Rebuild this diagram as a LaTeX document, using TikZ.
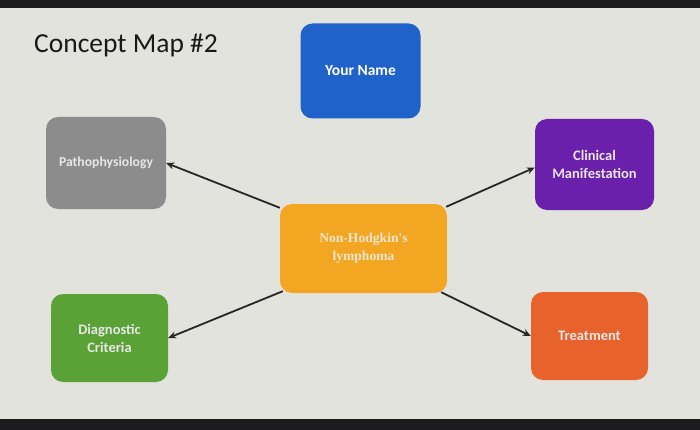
\documentclass[tikz,border=0pt]{standalone}
\usepackage{fontspec}
\setmainfont{Carlito}
\newfontfamily\serifbox{Liberation Serif}
\usetikzlibrary{arrows.meta}
\definecolor{bgc}{HTML}{E3E3DE}
\definecolor{bandc}{HTML}{1C1C1E}
\definecolor{bluec}{HTML}{1F62C9}
\definecolor{grayc}{HTML}{8C8C8C}
\definecolor{purplec}{HTML}{6A20AA}
\definecolor{greenc}{HTML}{5BA236}
\definecolor{orangec}{HTML}{E8622C}
\definecolor{amberc}{HTML}{F3A622}
\definecolor{txtc}{HTML}{E6E6E6}
\definecolor{ctxt}{HTML}{EDE6CC}
\tikzset{
  conceptbox/.style={rounded corners=12pt, inner sep=0pt, align=center, font=\bfseries\fontsize{14.5}{18}\selectfont, text=txtc},
  link/.style={draw=black!85, line width=1.8pt, -{Stealth[length=8pt,width=7pt]}}
}
\begin{document}
\begin{tikzpicture}[x=1pt,y=-1pt]
\useasboundingbox (0,0) rectangle (700,430);
\fill[bgc] (0,0) rectangle (700,430);
\fill[bandc] (0,0) rectangle (700,8);
\fill[bandc] (0,419) rectangle (700,430);
\node[anchor=west, font=\fontsize{27.5}{32}\selectfont, text=black!90, inner sep=0pt] (title) at (34,45) {Concept Map \#2};
\node[conceptbox, fill=bluec, minimum width=120pt, minimum height=95pt, text=white, font=\bfseries\fontsize{15.5}{18}\selectfont] (name) at (360.5,71) {Your Name};
\node[conceptbox, fill=grayc, minimum width=120pt, minimum height=92pt, font=\bfseries\fontsize{13.7}{18}\selectfont] (patho) at (106,163) {Pathophysiology};
\node[conceptbox, fill=purplec, minimum width=119pt, minimum height=91pt] (clin) at (594.5,164.5) {Clinical\\Manifestation};
\node[conceptbox, fill=greenc, minimum width=117pt, minimum height=88pt] (diag) at (109.5,338) {Diagnostic\\Criteria};
\node[conceptbox, fill=orangec, minimum width=117pt, minimum height=88pt] (treat) at (589.5,336) {Treatment};
\node[conceptbox, fill=amberc, minimum width=167pt, minimum height=89pt, text=ctxt, font=\serifbox\bfseries\fontsize{13.6}{18}\selectfont] (center) at (363.5,248.5) {Non-Hodgkin's\\lymphoma};
\draw[link] ([yshift=-4pt]center.north west) -- (patho.east);
\draw[link] ([xshift=-1pt,yshift=-3pt]center.north east) -- ([yshift=-3pt]clin.west);
\draw[link] ([xshift=3pt,yshift=2pt]center.south west) -- (diag.east);
\draw[link] ([xshift=-6pt,yshift=1pt]center.south east) -- (treat.west);
\end{tikzpicture}
\end{document}
